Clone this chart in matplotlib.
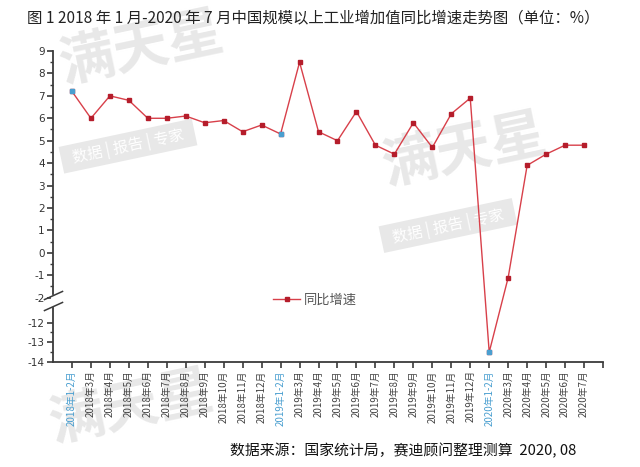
import numpy as np
import matplotlib.pyplot as plt
from matplotlib.transforms import blended_transform_factory

plt.rcParams['font.family'] = ['Noto Sans CJK SC', 'DejaVu Sans']

# monthly data, 2018-01 .. 2020-07 (Jan+Feb combined)
months = ['2018年1-2月', '2018年3月', '2018年4月', '2018年5月', '2018年6月', '2018年7月',
          '2018年8月', '2018年9月', '2018年10月', '2018年11月', '2018年12月',
          '2019年1-2月', '2019年3月', '2019年4月', '2019年5月', '2019年6月', '2019年7月',
          '2019年8月', '2019年9月', '2019年10月', '2019年11月', '2019年12月',
          '2020年1-2月', '2020年3月', '2020年4月', '2020年5月', '2020年6月', '2020年7月']
growth = [7.2, 6.0, 7.0, 6.8, 6.0, 6.0, 6.1, 5.8, 5.9, 5.4, 5.7,
          5.3, 8.5, 5.4, 5.0, 6.3, 4.8, 4.4, 5.8, 4.7, 6.2, 6.9,
          -13.5, -1.1, 3.9, 4.4, 4.8, 4.8]
highlight = ['2018年1-2月', '2019年1-2月', '2020年1-2月']

yticks = [9, 8, 7, 6, 5, 4, 3, 2, 1, 0, -1, -2, -12, -13, -14]
yminor = [8.5, 7.5, 6.5, 5.5, 4.5, 3.5, 2.5, 1.5, 0.5, -0.5, -1.5, -12.5, -13.5]

title = '图 1 2018 年 1 月-2020 年 7 月中国规模以上工业增加值同比增速走势图（单位：%）'
source = '数据来源：国家统计局，赛迪顾问整理测算  2020, 08'

# broken y axis: values between b_lo and b_hi are squeezed out
b_hi, b_lo, k = -2.2, -10.96, 0.8775


def fwd(y):
    y = np.asarray(y, dtype=float)
    return np.where(y >= b_hi, y, np.where(y <= b_lo, b_hi - (b_lo - y) * k, b_hi))


def inv(u):
    u = np.asarray(u, dtype=float)
    return np.where(u >= b_hi, u, b_lo - (b_hi - u) / k)


fig = plt.figure(figsize=(6.4, 4.67), dpi=100)
fig.patch.set_facecolor('white')

# faint watermarks
wm = '#e8e8e8'
for (x, y, bx, by) in [(0.085, 0.80, 0.10, 0.64), (0.59, 0.58, 0.60, 0.47)]:
    fig.text(x, y, '满天星', fontsize=40, fontweight='bold', color=wm, rotation=12,
             ha='left', va='bottom', zorder=-2)
    fig.text(bx, by, '  数据 | 报告 | 专家  ', fontsize=11, color='white', rotation=12,
             ha='left', va='bottom', zorder=-2,
             bbox=dict(boxstyle='square,pad=0.3', fc=wm, ec='none'))
fig.text(0.07, 0.03, '满天星', fontsize=40, fontweight='bold', color=wm, rotation=12,
         ha='left', va='bottom', zorder=-2)

ax = fig.add_axes([0.0828, 0.2248, 0.8594, 0.666])
ax.patch.set_alpha(0)
ax.set_yscale('function', functions=(fwd, inv))

x = np.arange(len(months))
ax.plot(x, growth, color='#d8404a', lw=1.0, marker='s', ms=3.2,
        mfc='#b51d2b', mec='#b51d2b', label='同比增速', zorder=3)
hi = [months.index(m) for m in highlight]
ax.plot(hi, [growth[i] for i in hi], ls='none', marker='s', ms=3.2,
        mfc='#4a9fd0', mec='#4a9fd0', zorder=4)

ax.set_xlim(-1, 28)
ax.set_ylim(-14, 9)
ax.set_xticks(np.arange(len(months) + 1))
ax.set_xticklabels(months + [''], rotation=90, fontsize=7)
for lab in ax.get_xticklabels():
    lab.set_color('#4a9fd0' if lab.get_text() in highlight else '#444444')
ax.set_yticks(yticks)
ax.set_yticklabels([str(v) for v in yticks], fontsize=7.5, color='#333333',
                   family=['DejaVu Sans'])
ax.set_yticks(yminor, minor=True)

for s in ['top', 'right']:
    ax.spines[s].set_visible(False)
for s in ['left', 'bottom']:
    ax.spines[s].set_linewidth(1.3)
    ax.spines[s].set_color('#3a3a3a')
ax.tick_params(axis='both', which='major', direction='out', length=4, width=1.2,
               color='#3a3a3a', pad=2)
ax.tick_params(axis='y', which='minor', direction='out', length=2.5, width=1.0,
               color='#3a3a3a')

# break marks on the y axis
tr = blended_transform_factory(ax.transAxes, ax.transData)
ax.plot([0, 0], [-1.95, -11.1], transform=tr, color='white', lw=3, clip_on=False, zorder=5)
ax.plot([0, 0], [-1.9, -11.14], transform=tr, ls='none', marker=[(-1, -0.45), (1, 0.45)],
        ms=14, mew=1.1, color='#3a3a3a', clip_on=False, zorder=6)

ax.legend(loc='center left', bbox_to_anchor=(0.4266, 0.3576), bbox_transform=fig.transFigure,
          frameon=False, borderpad=0, borderaxespad=0, handlelength=2.05,
          handletextpad=0.3, prop={'size': 9.5}, labelcolor='#555555')

fig.text(0.042, 0.962, title, fontsize=11.1, color='#222222', ha='left', va='center')
fig.text(0.36, 0.036, source, fontsize=10.7, color='#111111', ha='left', va='center')

fig.savefig('out.png', dpi=100)
